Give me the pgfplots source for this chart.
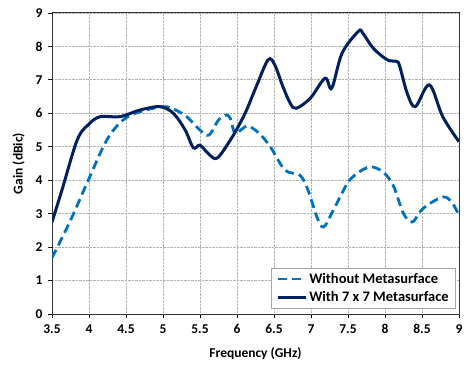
\documentclass[border=0pt]{standalone}
\usepackage{fontspec}
\setmainfont{Carlito}
\usepackage{pgfplots}
\pgfplotsset{compat=1.18}
\definecolor{dashblue}{RGB}{0,112,192}
\definecolor{navy}{RGB}{0,32,96}
\begin{document}
\begin{tikzpicture}
\begin{axis}[
  name=ax,
  scale only axis,
  width=407pt, height=301pt,
  xmin=3.5, xmax=9, ymin=0, ymax=9,
  xtick={3.5,4,...,9},
  xticklabels={3.5,4,4.5,5,5.5,6,6.5,7,7.5,8,8.5,9},
  ytick={0,1,...,9},
  xtick pos=left, ytick pos=left,
  tick align=outside,
  major tick length=4pt,
  tick style={black, line width=0.8pt},
  axis line style={black!80, line width=1pt},
  grid=major,
  major grid style={gray!60, densely dotted, line width=0.8pt},
  /pgf/number format/assume math mode=true,
  ticklabel style={font=\fontsize{13.5}{15}\selectfont\bfseries},
  xticklabel style={yshift=-3pt},
  yticklabel style={xshift=-2pt},
  xlabel={Frequency (GHz)},
  ylabel={Gain (dBic)},
  label style={font=\fontsize{13.5}{15}\selectfont\bfseries},
  xlabel style={yshift=-7pt},
  ylabel style={yshift=4pt},
  legend style={at={(0.993,0.017)}, anchor=south east, draw=gray!70, line width=0.8pt,
    font=\fontsize{14.5}{16}\selectfont\bfseries, row sep=3pt, inner xsep=5pt, inner ysep=3pt},
  legend cell align=left,
  legend image code/.code={\draw[#1] (0pt,0pt) -- (28pt,0pt);},
]
\addplot[dashblue, line width=2.8pt, dash pattern=on 9pt off 5pt, smooth, tension=0.55] coordinates {
(3.5,1.68) (3.75,2.8) (3.99,4.0) (4.24,5.2) (4.46,5.8) (4.69,6.05) (5.0,6.2) (5.15,6.12)
(5.32,5.9) (5.5,5.5) (5.62,5.35) (5.75,5.8) (5.85,5.95) (5.91,5.85) (5.97,5.4) (6.05,5.5) (6.15,5.62)
(6.3,5.4) (6.45,5.0) (6.65,4.3) (6.85,4.15) (6.96,3.7) (7.08,2.9) (7.17,2.6) (7.3,3.1) (7.49,3.9)
(7.62,4.2) (7.8,4.4) (7.97,4.25) (8.11,3.85) (8.25,3.0) (8.37,2.75) (8.47,3.05) (8.57,3.25)
(8.78,3.5) (8.9,3.35) (9.0,2.95)
};
\addlegendentry{Without Metasurface}
\addplot[navy, line width=3pt, smooth, tension=0.55] coordinates {
(3.5,2.75) (3.635,3.71) (3.84,5.2) (3.99,5.66) (4.15,5.9) (4.42,5.9) (4.69,6.1) (4.96,6.2)
(5.14,6.0) (5.30,5.5) (5.41,4.97) (5.5,5.05) (5.61,4.8) (5.73,4.66) (5.91,5.2) (6.04,5.7)
(6.13,6.1) (6.26,6.8) (6.42,7.6) (6.51,7.45) (6.62,6.8) (6.72,6.3) (6.8,6.15) (6.99,6.45)
(7.19,7.05) (7.28,6.75) (7.42,7.8) (7.64,8.45) (7.7,8.4) (7.84,7.95) (8.03,7.6) (8.16,7.55)
(8.2,7.4) (8.3,6.6) (8.41,6.2) (8.6,6.85) (8.78,5.9) (9.0,5.15)
};
\addlegendentry{With 7 x 7 Metasurface}
\end{axis}
\path[use as bounding box] ([shift={(-52pt,-58pt)}]ax.south west) rectangle ([shift={(15pt,13pt)}]ax.north east);
\end{tikzpicture}
\end{document}
